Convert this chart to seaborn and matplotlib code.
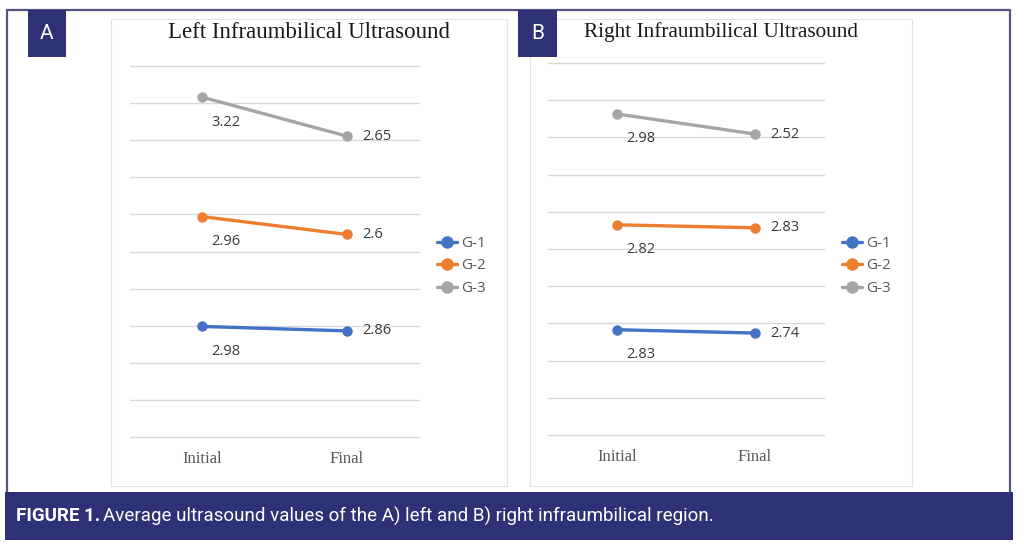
import seaborn as sns
import pandas as pd
import matplotlib.pyplot as plt
import numpy as np
from matplotlib import font_manager
from matplotlib.patches import Rectangle
from matplotlib.lines import Line2D

#-----------------------------------------------------------------------------------------------------------------------
"""Data"""
times = ['Initial', 'Final']
groups = ['G-1', 'G-2', 'G-3']
left_g1 = [2.98, 2.86]
left_g2 = [2.96, 2.6]
left_g3 = [3.22, 2.65]
right_g1 = [2.83, 2.74]
right_g2 = [2.82, 2.83]
right_g3 = [2.98, 2.52]
titles = ['Left Infraumbilical Ultrasound', 'Right Infraumbilical Ultrasound']
panel_letters = ['A', 'B']
caption_bold = 'FIGURE 1.'
caption_rest = 'Average ultrasound values of the A) left and B) right infraumbilical region.'

colors = ['#4472C4', '#ED7D31', '#A5A5A5']
navy = '#2E3175'

#-----------------------------------------------------------------------------------------------------------------------
"""Fonts"""
sns.set_style('white')
installed = {f.name for f in font_manager.fontManager.ttflist}
narrow = 'Liberation Sans Narrow' if 'Liberation Sans Narrow' in installed else 'Roboto'
serif = 'Liberation Serif'
plt.rcParams['font.family'] = ['Open Sans', 'DejaVu Sans']

#-----------------------------------------------------------------------------------------------------------------------
"""Figure"""
W, H = 1024, 549
fig = plt.figure(figsize=(W / 100, H / 100), dpi=100)
fig.patch.set_facecolor('white')


def px(x0, y0, x1, y1):
    # pixel box (top-left origin) -> figure fraction rect
    return [x0 / W, 1 - y1 / H, (x1 - x0) / W, (y1 - y0) / H]


def fx(x):
    return x / W


def fy(y):
    return 1 - y / H


# outer frame
fig.add_artist(Line2D([fx(7), fx(7), fx(1010), fx(1010)], [fy(492), fy(10), fy(10), fy(492)],
                      color='#55557a', lw=1.6, zorder=-2))

# caption band
fig.add_artist(Rectangle((fx(5), fy(540)), fx(1013) - fx(5), fy(492) - fy(540), color=navy, lw=0, zorder=-1))
cap_size = 16
t1 = fig.text(fx(16), fy(516), caption_bold, color='white', fontsize=cap_size, fontweight='bold',
              family=narrow, va='center', ha='left')
t2 = fig.text(0, fy(516), caption_rest, color='white', fontsize=cap_size, family=narrow,
              va='center', ha='left')
renderer = fig.canvas.get_renderer()
bb = t1.get_window_extent(renderer)
t2.set_x((bb.x1 + 3) / W)
# shrink caption so it ends where the reference does (~x=712)
end = t2.get_window_extent(renderer).x1
scale = (712 - 16) / (end - 16)
cap_size = cap_size * scale
t1.set_fontsize(cap_size)
t2.set_fontsize(cap_size)
bb = t1.get_window_extent(renderer)
t2.set_x((bb.x1 + 3) / W)

#-----------------------------------------------------------------------------------------------------------------------
"""Panels"""
panels = [
    dict(vals=[left_g1, left_g2, left_g3], frame=(111, 19, 507, 486), axbox=(130, 66, 419, 437),
         title_x=309, title_y=33, title_size=16.5, letter=(28, 10, 66, 57), leg_x=437),
    dict(vals=[right_g1, right_g2, right_g3], frame=(530, 19, 912, 486), axbox=(548, 63, 824, 435),
         title_x=721, title_y=32, title_size=15.3, letter=(518, 10, 557, 57), leg_x=842),
]

for i, p in enumerate(panels):
    # chart frame
    x0, y0, x1, y1 = p['frame']
    fig.add_artist(Rectangle((fx(x0), fy(y1)), fx(x1) - fx(x0), fy(y0) - fy(y1),
                             facecolor='white', edgecolor='#e3e3e3', lw=0.8, zorder=-1))

    # stacked line values (Excel stacked line chart)
    rows = []
    base = np.zeros(len(times))
    for g, v in zip(groups, p['vals']):
        top = base + np.array(v)
        for t, raw, st in zip(times, v, top):
            rows.append({'time': t, 'group': g, 'value': raw, 'stacked': st})
        base = top
    df = pd.DataFrame(rows)

    ax = fig.add_axes(px(*p['axbox']))
    ax.set_facecolor('none')
    sns.lineplot(data=df, x='time', y='stacked', hue='group', palette=colors, marker='o',
                 markersize=7.5, markeredgewidth=0, linewidth=2.4, legend=False, ax=ax)

    for _, r in df.iterrows():
        xpos = times.index(r['time'])
        if xpos == 0:
            ax.annotate(f"{r['value']:g}", (xpos, r['stacked']), xytext=(17, -18),
                        textcoords='offset points', ha='center', va='center',
                        fontsize=10.5, color='#3a3a3a')
        else:
            ax.annotate(f"{r['value']:g}", (xpos, r['stacked']), xytext=(11, 0),
                        textcoords='offset points', ha='left', va='center',
                        fontsize=10.5, color='#3a3a3a')

    ax.set_xlim(-0.5, 1.5)
    ax.set_ylim(0, 10)
    ax.set_yticks(range(11))
    ax.yaxis.grid(True, color='#d9d9d9', lw=1)
    for gl in ax.get_ygridlines():
        gl.set_clip_on(False)
    ax.xaxis.grid(False)
    ax.set_axisbelow(True)
    for s in ax.spines.values():
        s.set_visible(False)
    ax.set_xticks([0, 1])
    ax.set_xticklabels(times, family=serif, fontsize=12, color='#595959')
    ax.tick_params(axis='x', length=0, pad=10)
    ax.tick_params(axis='y', length=0, labelleft=False)
    ax.set_xlabel('')
    ax.set_ylabel('')

    # title
    fig.text(fx(p['title_x']), fy(p['title_y']), titles[i], family=serif, fontsize=p['title_size'],
             color='#1a1a1a', ha='center', va='center')

    # letter box
    lx0, ly0, lx1, ly1 = p['letter']
    fig.add_artist(Rectangle((fx(lx0), fy(ly1)), fx(lx1) - fx(lx0), fy(ly0) - fy(ly1), color=navy, lw=0))
    fig.text(fx((lx0 + lx1) / 2), fy((ly0 + ly1) / 2), panel_letters[i], color='white', fontsize=15,
             family=narrow, ha='center', va='center')

    # legend
    handles = [Line2D([0], [0], color=c, lw=2.4, marker='o', markersize=9, markeredgewidth=0) for c in colors]
    fig.legend(handles, groups, loc='center left', bbox_to_anchor=(fx(p['leg_x']), fy(266)),
               frameon=False, fontsize=11, labelcolor='#595959', handlelength=1.3, handletextpad=0.25,
               labelspacing=0.5, borderpad=0, borderaxespad=0)

#-----------------------------------------------------------------------------------------------------------------------
"""Save"""
fig.savefig('out.png', dpi=100)
